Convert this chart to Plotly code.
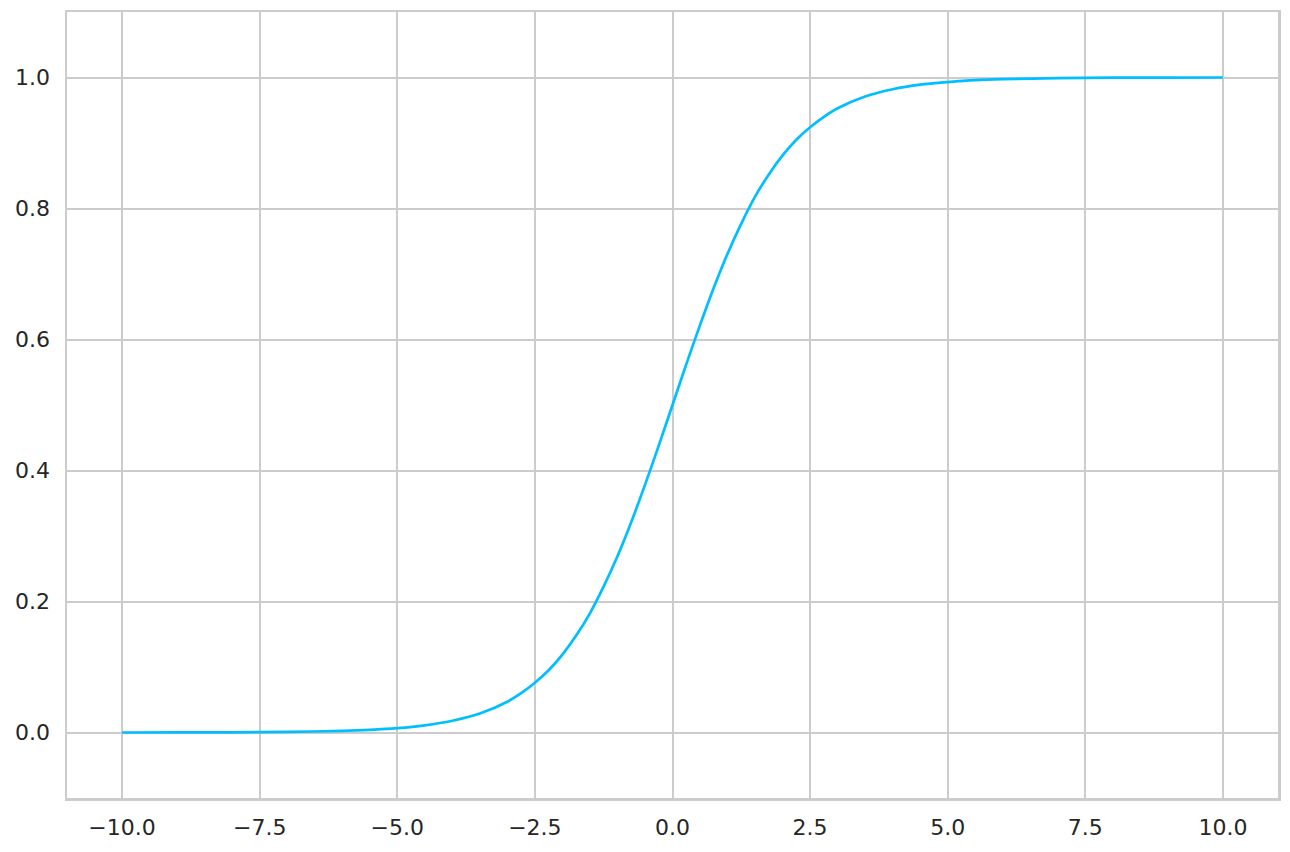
import plotly.graph_objects as go

# Values
x_vals = [-10.0, -9.0, -8.0, -7.0, -6.0, -5.5, -5.0, -4.5, -4.0, -3.5, -3.0, -2.75, -2.5,
          -2.25, -2.0, -1.75, -1.5, -1.25, -1.0, -0.75, -0.5, -0.25, 0.0, 0.25, 0.5,
          0.75, 1.0, 1.25, 1.5, 1.75, 2.0, 2.25, 2.5, 2.75, 3.0, 3.5, 4.0,
          4.5, 5.0, 5.5, 6.0, 7.0, 8.0, 9.0, 10.0]
y_vals = [0.0000, 0.0001, 0.0003, 0.0009, 0.0025, 0.0041, 0.0067, 0.011, 0.018,
          0.029, 0.047, 0.060, 0.076, 0.095, 0.119, 0.148, 0.182, 0.223, 0.269,
          0.321, 0.378, 0.438, 0.500, 0.562, 0.622, 0.679, 0.731, 0.777, 0.818,
          0.852, 0.881, 0.905, 0.924, 0.940, 0.953, 0.971, 0.982, 0.989, 0.993,
          0.996, 0.9975, 0.999, 0.9997, 0.9999, 1.0000]

x_ticks = [-10.0, -7.5, -5.0, -2.5, 0.0, 2.5, 5.0, 7.5, 10.0]
x_tick_labels = ["\u221210.0", "\u22127.5", "\u22125.0", "\u22122.5", "0.0", "2.5", "5.0", "7.5", "10.0"]
y_ticks = [0.0, 0.2, 0.4, 0.6, 0.8, 1.0]
y_tick_labels = ["0.0", "0.2", "0.4", "0.6", "0.8", "1.0"]

fig = go.Figure()
fig.add_trace(go.Scatter(
    x=x_vals, y=y_vals, mode="lines",
    line=dict(color="#00BFFF", width=2.7, shape="spline", smoothing=0.8),
    showlegend=False, hoverinfo="skip",
))

axis_common = dict(
    showgrid=True, gridcolor="#cccccc", gridwidth=2,
    showline=True, linecolor="#cccccc", linewidth=2.5, mirror=True,
    zeroline=False, ticks="",
    tickfont=dict(family="DejaVu Sans", size=22, color="#262626"),
)

fig.update_xaxes(range=[-11, 11], tickvals=x_ticks, ticktext=x_tick_labels,
                 ticklabelstandoff=8, **axis_common)
fig.update_yaxes(range=[-0.1, 1.1], tickvals=y_ticks, ticktext=y_tick_labels,
                 ticklabelstandoff=10, **axis_common)

fig.update_layout(
    width=1290, height=852,
    margin=dict(l=67, r=12, t=12, b=54, autoexpand=False),
    paper_bgcolor="white", plot_bgcolor="white",
)

fig.write_html("out.html",
               config={"displayModeBar": False, "staticPlot": True},
               post_script="document.body.style.margin='0';document.body.style.overflow='hidden';")
